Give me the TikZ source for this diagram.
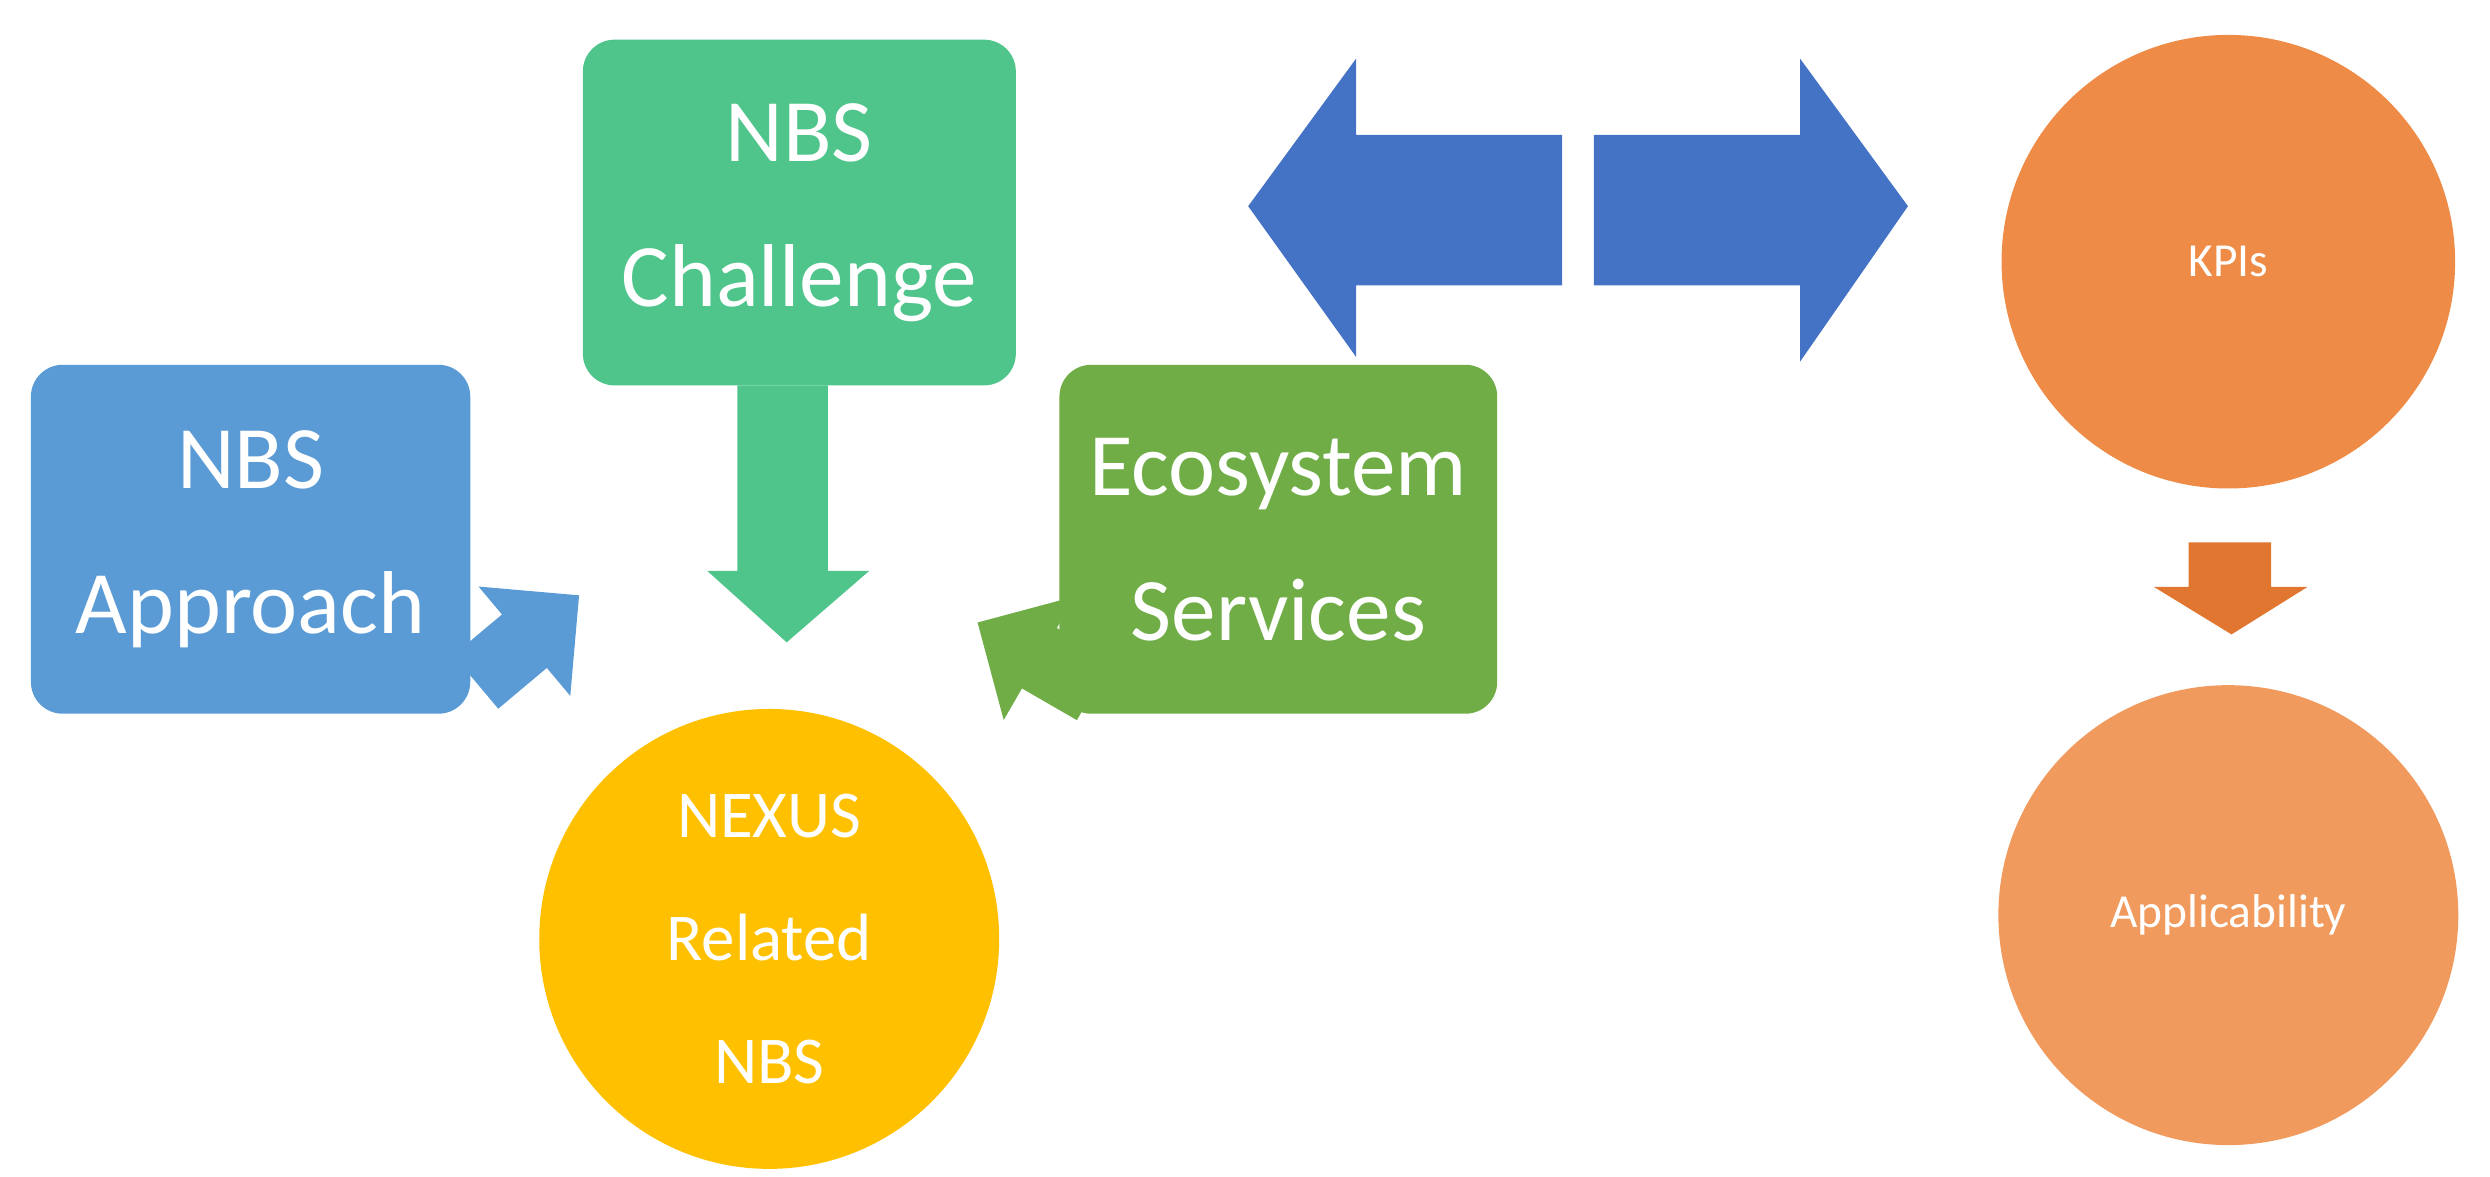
\documentclass[tikz,border=0pt]{standalone}
\usepackage{fontspec}
\setmainfont{Carlito}
\begin{document}
\begin{tikzpicture}[x=0.01cm,y=-0.01cm,
  box/.style={rounded corners=0.2cm,text=white,align=center,font=\fontsize{16}{22}\selectfont,inner sep=0},
  circ/.style={circle,text=white,align=center,inner sep=0}]
\useasboundingbox (0,0) rectangle (1570,742);
\definecolor{cblue}{HTML}{5B9BD5}\definecolor{cteal}{HTML}{4FC58C}
\definecolor{cgreen}{HTML}{70AD47}\definecolor{cyel}{HTML}{FFC000}
\definecolor{cdark}{HTML}{4472C4}\definecolor{corg}{HTML}{EE8C47}
\definecolor{corg2}{HTML}{E0762F}\definecolor{corg3}{HTML}{F19A5D}
% arrows into NEXUS (drawn first)
\fill[cteal] (465,243) -- (522,243) -- (522,360) -- (548,360) -- (496,405) -- (446,360) -- (465,360) -- cycle;
\begin{scope}[shift={(300,430)},rotate=40]
\fill[cblue] (0,-22) -- (40,-22) -- (40,-45) -- (85,0) -- (40,45) -- (40,22) -- (0,22) -- cycle;
\end{scope}
\begin{scope}[shift={(690,435)},rotate=150]
\fill[cgreen] (0,-22) -- (40,-22) -- (40,-45) -- (85,0) -- (40,45) -- (40,22) -- (0,22) -- cycle;
\end{scope}
\node[box,fill=cblue,minimum width=277*0.01cm,minimum height=220*0.01cm] (app) at (158,340) {NBS\\[4pt]Approach};
\node[box,fill=cteal,minimum width=273*0.01cm,minimum height=218*0.01cm] (chal) at (504,134) {NBS\\[4pt]Challenge};
\node[box,fill=cgreen,minimum width=276*0.01cm,minimum height=220*0.01cm] (eco) at (806,340) {Ecosystem\\[4pt]Services};
\node[circ,fill=cyel,minimum size=290*0.01cm,font=\fontsize{12}{22}\selectfont] (nexus) at (485,592) {NEXUS\\Related\\NBS};
% double arrow
\fill[cdark] (787,130) -- (855,37) -- (855,85) -- (985,85) -- (985,180) -- (855,180) -- (855,225) -- cycle;
\fill[cdark] (1203,130) -- (1135,37) -- (1135,85) -- (1005,85) -- (1005,180) -- (1135,180) -- (1135,228) -- cycle;
\node[circ,fill=corg,minimum size=286*0.01cm,font=\fontsize{8.5}{10}\selectfont] (kpi) at (1405,165) {KPIs};
\fill[corg2] (1380,342) -- (1432,342) -- (1432,370) -- (1455,370) -- (1407,400) -- (1358,370) -- (1380,370) -- cycle;
\node[circ,fill=corg3,minimum size=290*0.01cm,font=\fontsize{8.5}{10}\selectfont] (appl) at (1405,577) {Applicability};
\end{tikzpicture}
\end{document}
